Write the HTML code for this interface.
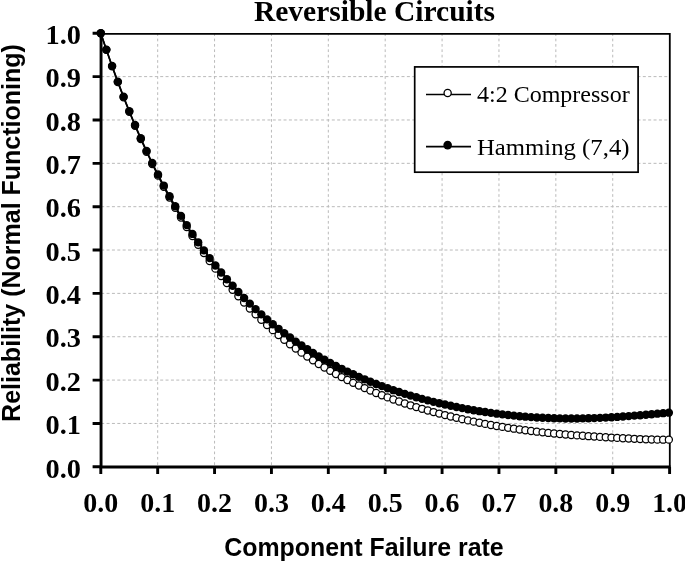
<!DOCTYPE html><html><head><meta charset="utf-8"><style>html,body{margin:0;padding:0;background:#fff}svg{display:block}</style></head><body>
<svg width="685" height="561" viewBox="0 0 685 561">
<rect width="685" height="561" fill="#fff"/>
<path d="M101.21 423.45H669.6M101.21 380.09H669.6M101.21 336.74H669.6M101.21 293.39H669.6M101.21 250.03H669.6M101.21 206.68H669.6M101.21 163.33H669.6M101.21 119.98H669.6M101.21 76.62H669.6" stroke="#bababa" stroke-width="1" stroke-dasharray="3.0 2.3625" fill="none"/>
<path d="M157.68 33.27V466.8M214.56 33.27V466.8M271.44 33.27V466.8M328.32 33.27V466.8M385.20 33.27V466.8M442.08 33.27V466.8M498.96 33.27V466.8M555.84 33.27V466.8M612.72 33.27V466.8" stroke="#bababa" stroke-width="1" stroke-dasharray="2.7 2.6625" fill="none"/>
<path d="M92.6 466.80H101M100.80 467V474M92.6 423.45H101M157.68 467V474M92.6 380.09H101M214.56 467V474M92.6 336.74H101M271.44 467V474M92.6 293.39H101M328.32 467V474M92.6 250.03H101M385.20 467V474M92.6 206.68H101M442.08 467V474M92.6 163.33H101M498.96 467V474M92.6 119.98H101M555.84 467V474M92.6 76.62H101M612.72 467V474M92.6 33.27H101M669.60 467V474" stroke="#000" stroke-width="2.9" fill="none"/>
<path d="M100.8 33.9H669.8V466.8" stroke="#000" stroke-width="1.8" fill="none"/>
<path d="M101.05 33.27V467.0H670.7" stroke="#000" stroke-width="2.9" fill="none"/>
<polyline points="100.80,33.27 106.34,49.84 112.08,66.33 117.82,82.13 123.56,97.28 129.30,111.80 135.04,125.70 140.78,139.01 146.52,151.75 152.26,163.95 158.00,175.63 163.74,186.81 169.48,197.52 175.22,207.79 180.96,217.62 186.70,227.04 192.44,236.07 198.18,244.73 203.92,253.04 209.66,261.01 215.40,268.66 221.14,276.00 226.88,283.04 232.62,289.81 238.36,296.30 244.10,302.53 249.84,308.52 255.58,314.26 261.32,319.78 267.06,325.07 272.80,330.15 278.54,335.03 284.28,339.71 290.02,344.20 295.76,348.50 301.50,352.63 307.24,356.58 312.98,360.37 318.72,364.01 324.46,367.49 330.20,370.83 335.94,374.02 341.68,377.09 347.42,380.02 353.16,382.83 358.90,385.52 364.64,388.10 370.38,390.58 376.12,392.95 381.86,395.23 387.60,397.41 393.34,399.51 399.08,401.52 404.82,403.45 410.56,405.31 416.30,407.10 422.04,408.82 427.78,410.47 433.52,412.07 439.26,413.60 445.00,415.07 450.74,416.49 456.48,417.85 462.22,419.16 467.96,420.42 473.70,421.63 479.44,422.78 485.18,423.89 490.92,424.95 496.66,425.96 502.40,426.92 508.14,427.83 513.88,428.69 519.62,429.51 525.36,430.28 531.10,431.01 536.84,431.69 542.58,432.33 548.32,432.93 554.06,433.49 559.80,434.01 565.54,434.50 571.28,434.96 577.02,435.39 582.76,435.79 588.50,436.18 594.24,436.54 599.98,436.90 605.72,437.24 611.46,437.57 617.20,437.89 622.94,438.20 628.68,438.51 634.42,438.80 640.16,439.06 645.90,439.30 651.64,439.50 657.38,439.64 663.12,439.69 668.86,439.63" fill="none" stroke="#000" stroke-width="1.6"/><g fill="#fff" stroke="#000" stroke-width="1.25"><circle cx="100.80" cy="33.27" r="3.55"/><circle cx="106.34" cy="49.84" r="3.55"/><circle cx="112.08" cy="66.33" r="3.55"/><circle cx="117.82" cy="82.13" r="3.55"/><circle cx="123.56" cy="97.28" r="3.55"/><circle cx="129.30" cy="111.80" r="3.55"/><circle cx="135.04" cy="125.70" r="3.55"/><circle cx="140.78" cy="139.01" r="3.55"/><circle cx="146.52" cy="151.75" r="3.55"/><circle cx="152.26" cy="163.95" r="3.55"/><circle cx="158.00" cy="175.63" r="3.55"/><circle cx="163.74" cy="186.81" r="3.55"/><circle cx="169.48" cy="197.52" r="3.55"/><circle cx="175.22" cy="207.79" r="3.55"/><circle cx="180.96" cy="217.62" r="3.55"/><circle cx="186.70" cy="227.04" r="3.55"/><circle cx="192.44" cy="236.07" r="3.55"/><circle cx="198.18" cy="244.73" r="3.55"/><circle cx="203.92" cy="253.04" r="3.55"/><circle cx="209.66" cy="261.01" r="3.55"/><circle cx="215.40" cy="268.66" r="3.55"/><circle cx="221.14" cy="276.00" r="3.55"/><circle cx="226.88" cy="283.04" r="3.55"/><circle cx="232.62" cy="289.81" r="3.55"/><circle cx="238.36" cy="296.30" r="3.55"/><circle cx="244.10" cy="302.53" r="3.55"/><circle cx="249.84" cy="308.52" r="3.55"/><circle cx="255.58" cy="314.26" r="3.55"/><circle cx="261.32" cy="319.78" r="3.55"/><circle cx="267.06" cy="325.07" r="3.55"/><circle cx="272.80" cy="330.15" r="3.55"/><circle cx="278.54" cy="335.03" r="3.55"/><circle cx="284.28" cy="339.71" r="3.55"/><circle cx="290.02" cy="344.20" r="3.55"/><circle cx="295.76" cy="348.50" r="3.55"/><circle cx="301.50" cy="352.63" r="3.55"/><circle cx="307.24" cy="356.58" r="3.55"/><circle cx="312.98" cy="360.37" r="3.55"/><circle cx="318.72" cy="364.01" r="3.55"/><circle cx="324.46" cy="367.49" r="3.55"/><circle cx="330.20" cy="370.83" r="3.55"/><circle cx="335.94" cy="374.02" r="3.55"/><circle cx="341.68" cy="377.09" r="3.55"/><circle cx="347.42" cy="380.02" r="3.55"/><circle cx="353.16" cy="382.83" r="3.55"/><circle cx="358.90" cy="385.52" r="3.55"/><circle cx="364.64" cy="388.10" r="3.55"/><circle cx="370.38" cy="390.58" r="3.55"/><circle cx="376.12" cy="392.95" r="3.55"/><circle cx="381.86" cy="395.23" r="3.55"/><circle cx="387.60" cy="397.41" r="3.55"/><circle cx="393.34" cy="399.51" r="3.55"/><circle cx="399.08" cy="401.52" r="3.55"/><circle cx="404.82" cy="403.45" r="3.55"/><circle cx="410.56" cy="405.31" r="3.55"/><circle cx="416.30" cy="407.10" r="3.55"/><circle cx="422.04" cy="408.82" r="3.55"/><circle cx="427.78" cy="410.47" r="3.55"/><circle cx="433.52" cy="412.07" r="3.55"/><circle cx="439.26" cy="413.60" r="3.55"/><circle cx="445.00" cy="415.07" r="3.55"/><circle cx="450.74" cy="416.49" r="3.55"/><circle cx="456.48" cy="417.85" r="3.55"/><circle cx="462.22" cy="419.16" r="3.55"/><circle cx="467.96" cy="420.42" r="3.55"/><circle cx="473.70" cy="421.63" r="3.55"/><circle cx="479.44" cy="422.78" r="3.55"/><circle cx="485.18" cy="423.89" r="3.55"/><circle cx="490.92" cy="424.95" r="3.55"/><circle cx="496.66" cy="425.96" r="3.55"/><circle cx="502.40" cy="426.92" r="3.55"/><circle cx="508.14" cy="427.83" r="3.55"/><circle cx="513.88" cy="428.69" r="3.55"/><circle cx="519.62" cy="429.51" r="3.55"/><circle cx="525.36" cy="430.28" r="3.55"/><circle cx="531.10" cy="431.01" r="3.55"/><circle cx="536.84" cy="431.69" r="3.55"/><circle cx="542.58" cy="432.33" r="3.55"/><circle cx="548.32" cy="432.93" r="3.55"/><circle cx="554.06" cy="433.49" r="3.55"/><circle cx="559.80" cy="434.01" r="3.55"/><circle cx="565.54" cy="434.50" r="3.55"/><circle cx="571.28" cy="434.96" r="3.55"/><circle cx="577.02" cy="435.39" r="3.55"/><circle cx="582.76" cy="435.79" r="3.55"/><circle cx="588.50" cy="436.18" r="3.55"/><circle cx="594.24" cy="436.54" r="3.55"/><circle cx="599.98" cy="436.90" r="3.55"/><circle cx="605.72" cy="437.24" r="3.55"/><circle cx="611.46" cy="437.57" r="3.55"/><circle cx="617.20" cy="437.89" r="3.55"/><circle cx="622.94" cy="438.20" r="3.55"/><circle cx="628.68" cy="438.51" r="3.55"/><circle cx="634.42" cy="438.80" r="3.55"/><circle cx="640.16" cy="439.06" r="3.55"/><circle cx="645.90" cy="439.30" r="3.55"/><circle cx="651.64" cy="439.50" r="3.55"/><circle cx="657.38" cy="439.64" r="3.55"/><circle cx="663.12" cy="439.69" r="3.55"/><circle cx="668.86" cy="439.63" r="3.55"/></g>
<polyline points="100.80,33.27 106.34,49.60 112.08,65.92 117.82,81.61 123.56,96.67 129.30,111.11 135.04,124.95 140.78,138.19 146.52,150.86 152.26,162.97 158.00,174.54 163.74,185.59 169.48,196.16 175.22,206.25 180.96,215.89 186.70,225.10 192.44,233.91 198.18,242.33 203.92,250.39 209.66,258.10 215.40,265.47 221.14,272.53 226.88,279.30 232.62,285.77 238.36,291.98 244.10,297.93 249.84,303.64 255.58,309.11 261.32,314.35 267.06,319.38 272.80,324.21 278.54,328.84 284.28,333.28 290.02,337.54 295.76,341.63 301.50,345.55 307.24,349.31 312.98,352.91 318.72,356.37 324.46,359.69 330.20,362.86 335.94,365.91 341.68,368.83 347.42,371.63 353.16,374.31 358.90,376.87 364.64,379.34 370.38,381.69 376.12,383.95 381.86,386.12 387.60,388.19 393.34,390.17 399.08,392.07 404.82,393.89 410.56,395.63 416.30,397.29 422.04,398.88 427.78,400.40 433.52,401.85 439.26,403.24 445.00,404.55 450.74,405.81 456.48,407.00 462.22,408.13 467.96,409.20 473.70,410.22 479.44,411.17 485.18,412.06 490.92,412.89 496.66,413.67 502.40,414.39 508.14,415.05 513.88,415.65 519.62,416.19 525.36,416.67 531.10,417.10 536.84,417.47 542.58,417.78 548.32,418.04 554.06,418.23 559.80,418.37 565.54,418.46 571.28,418.49 577.02,418.46 582.76,418.39 588.50,418.26 594.24,418.08 599.98,417.85 605.72,417.58 611.46,417.27 617.20,416.92 622.94,416.53 628.68,416.10 634.42,415.65 640.16,415.18 645.90,414.68 651.64,414.18 657.38,413.67 663.12,413.16 668.86,412.67" fill="none" stroke="#000" stroke-width="1.6"/><g fill="#000"><circle cx="100.80" cy="33.27" r="4.2"/><circle cx="106.34" cy="49.60" r="4.2"/><circle cx="112.08" cy="65.92" r="4.2"/><circle cx="117.82" cy="81.61" r="4.2"/><circle cx="123.56" cy="96.67" r="4.2"/><circle cx="129.30" cy="111.11" r="4.2"/><circle cx="135.04" cy="124.95" r="4.2"/><circle cx="140.78" cy="138.19" r="4.2"/><circle cx="146.52" cy="150.86" r="4.2"/><circle cx="152.26" cy="162.97" r="4.2"/><circle cx="158.00" cy="174.54" r="4.2"/><circle cx="163.74" cy="185.59" r="4.2"/><circle cx="169.48" cy="196.16" r="4.2"/><circle cx="175.22" cy="206.25" r="4.2"/><circle cx="180.96" cy="215.89" r="4.2"/><circle cx="186.70" cy="225.10" r="4.2"/><circle cx="192.44" cy="233.91" r="4.2"/><circle cx="198.18" cy="242.33" r="4.2"/><circle cx="203.92" cy="250.39" r="4.2"/><circle cx="209.66" cy="258.10" r="4.2"/><circle cx="215.40" cy="265.47" r="4.2"/><circle cx="221.14" cy="272.53" r="4.2"/><circle cx="226.88" cy="279.30" r="4.2"/><circle cx="232.62" cy="285.77" r="4.2"/><circle cx="238.36" cy="291.98" r="4.2"/><circle cx="244.10" cy="297.93" r="4.2"/><circle cx="249.84" cy="303.64" r="4.2"/><circle cx="255.58" cy="309.11" r="4.2"/><circle cx="261.32" cy="314.35" r="4.2"/><circle cx="267.06" cy="319.38" r="4.2"/><circle cx="272.80" cy="324.21" r="4.2"/><circle cx="278.54" cy="328.84" r="4.2"/><circle cx="284.28" cy="333.28" r="4.2"/><circle cx="290.02" cy="337.54" r="4.2"/><circle cx="295.76" cy="341.63" r="4.2"/><circle cx="301.50" cy="345.55" r="4.2"/><circle cx="307.24" cy="349.31" r="4.2"/><circle cx="312.98" cy="352.91" r="4.2"/><circle cx="318.72" cy="356.37" r="4.2"/><circle cx="324.46" cy="359.69" r="4.2"/><circle cx="330.20" cy="362.86" r="4.2"/><circle cx="335.94" cy="365.91" r="4.2"/><circle cx="341.68" cy="368.83" r="4.2"/><circle cx="347.42" cy="371.63" r="4.2"/><circle cx="353.16" cy="374.31" r="4.2"/><circle cx="358.90" cy="376.87" r="4.2"/><circle cx="364.64" cy="379.34" r="4.2"/><circle cx="370.38" cy="381.69" r="4.2"/><circle cx="376.12" cy="383.95" r="4.2"/><circle cx="381.86" cy="386.12" r="4.2"/><circle cx="387.60" cy="388.19" r="4.2"/><circle cx="393.34" cy="390.17" r="4.2"/><circle cx="399.08" cy="392.07" r="4.2"/><circle cx="404.82" cy="393.89" r="4.2"/><circle cx="410.56" cy="395.63" r="4.2"/><circle cx="416.30" cy="397.29" r="4.2"/><circle cx="422.04" cy="398.88" r="4.2"/><circle cx="427.78" cy="400.40" r="4.2"/><circle cx="433.52" cy="401.85" r="4.2"/><circle cx="439.26" cy="403.24" r="4.2"/><circle cx="445.00" cy="404.55" r="4.2"/><circle cx="450.74" cy="405.81" r="4.2"/><circle cx="456.48" cy="407.00" r="4.2"/><circle cx="462.22" cy="408.13" r="4.2"/><circle cx="467.96" cy="409.20" r="4.2"/><circle cx="473.70" cy="410.22" r="4.2"/><circle cx="479.44" cy="411.17" r="4.2"/><circle cx="485.18" cy="412.06" r="4.2"/><circle cx="490.92" cy="412.89" r="4.2"/><circle cx="496.66" cy="413.67" r="4.2"/><circle cx="502.40" cy="414.39" r="4.2"/><circle cx="508.14" cy="415.05" r="4.2"/><circle cx="513.88" cy="415.65" r="4.2"/><circle cx="519.62" cy="416.19" r="4.2"/><circle cx="525.36" cy="416.67" r="4.2"/><circle cx="531.10" cy="417.10" r="4.2"/><circle cx="536.84" cy="417.47" r="4.2"/><circle cx="542.58" cy="417.78" r="4.2"/><circle cx="548.32" cy="418.04" r="4.2"/><circle cx="554.06" cy="418.23" r="4.2"/><circle cx="559.80" cy="418.37" r="4.2"/><circle cx="565.54" cy="418.46" r="4.2"/><circle cx="571.28" cy="418.49" r="4.2"/><circle cx="577.02" cy="418.46" r="4.2"/><circle cx="582.76" cy="418.39" r="4.2"/><circle cx="588.50" cy="418.26" r="4.2"/><circle cx="594.24" cy="418.08" r="4.2"/><circle cx="599.98" cy="417.85" r="4.2"/><circle cx="605.72" cy="417.58" r="4.2"/><circle cx="611.46" cy="417.27" r="4.2"/><circle cx="617.20" cy="416.92" r="4.2"/><circle cx="622.94" cy="416.53" r="4.2"/><circle cx="628.68" cy="416.10" r="4.2"/><circle cx="634.42" cy="415.65" r="4.2"/><circle cx="640.16" cy="415.18" r="4.2"/><circle cx="645.90" cy="414.68" r="4.2"/><circle cx="651.64" cy="414.18" r="4.2"/><circle cx="657.38" cy="413.67" r="4.2"/><circle cx="663.12" cy="413.16" r="4.2"/><circle cx="668.86" cy="412.67" r="4.2"/></g>
<g font-family="Liberation Serif, serif" font-weight="bold" font-size="26.5" fill="#000"><text transform="translate(80.9 477.50) scale(1.07 1)" text-anchor="end">0.0</text><text transform="translate(100.80 511.5) scale(1.055 1)" text-anchor="middle">0.0</text><text transform="translate(80.9 434.15) scale(1.07 1)" text-anchor="end">0.1</text><text transform="translate(157.68 511.5) scale(1.055 1)" text-anchor="middle">0.1</text><text transform="translate(80.9 390.79) scale(1.07 1)" text-anchor="end">0.2</text><text transform="translate(214.56 511.5) scale(1.055 1)" text-anchor="middle">0.2</text><text transform="translate(80.9 347.44) scale(1.07 1)" text-anchor="end">0.3</text><text transform="translate(271.44 511.5) scale(1.055 1)" text-anchor="middle">0.3</text><text transform="translate(80.9 304.09) scale(1.07 1)" text-anchor="end">0.4</text><text transform="translate(328.32 511.5) scale(1.055 1)" text-anchor="middle">0.4</text><text transform="translate(80.9 260.74) scale(1.07 1)" text-anchor="end">0.5</text><text transform="translate(385.20 511.5) scale(1.055 1)" text-anchor="middle">0.5</text><text transform="translate(80.9 217.38) scale(1.07 1)" text-anchor="end">0.6</text><text transform="translate(442.08 511.5) scale(1.055 1)" text-anchor="middle">0.6</text><text transform="translate(80.9 174.03) scale(1.07 1)" text-anchor="end">0.7</text><text transform="translate(498.96 511.5) scale(1.055 1)" text-anchor="middle">0.7</text><text transform="translate(80.9 130.68) scale(1.07 1)" text-anchor="end">0.8</text><text transform="translate(555.84 511.5) scale(1.055 1)" text-anchor="middle">0.8</text><text transform="translate(80.9 87.32) scale(1.07 1)" text-anchor="end">0.9</text><text transform="translate(612.72 511.5) scale(1.055 1)" text-anchor="middle">0.9</text><text transform="translate(80.9 43.97) scale(1.07 1)" text-anchor="end">1.0</text><text transform="translate(669.60 511.5) scale(1.055 1)" text-anchor="middle">1.0</text></g>
<text x="374.5" y="21" text-anchor="middle" font-family="Liberation Serif, serif" font-weight="bold" font-size="29.5">Reversible Circuits</text>
<text x="364" y="556" text-anchor="middle" font-family="Liberation Sans, sans-serif" font-weight="bold" font-size="24.9">Component Failure rate</text>
<text transform="translate(19.6 233.0) rotate(-90)" text-anchor="middle" font-family="Liberation Sans, sans-serif" font-weight="bold" font-size="25">Reliability (Normal Functioning)</text>
<rect x="414.7" y="66.9" width="223.4" height="105.3" fill="#fff" stroke="#000" stroke-width="1.7"/>
<path d="M426 94.5H471M426 146.6H471" stroke="#000" stroke-width="1.6"/>
<circle cx="447.65" cy="93.0" r="3.6" fill="#fff" stroke="#000" stroke-width="1.3"/>
<circle cx="447.65" cy="145.1" r="4.3" fill="#000"/>
<g font-family="Liberation Serif, serif" font-size="24" fill="#000"><text x="477" y="102.3">4:2 Compressor</text><text x="477" y="154.7" textLength="152.5" lengthAdjust="spacingAndGlyphs">Hamming (7,4)</text></g>
</svg></body></html>
